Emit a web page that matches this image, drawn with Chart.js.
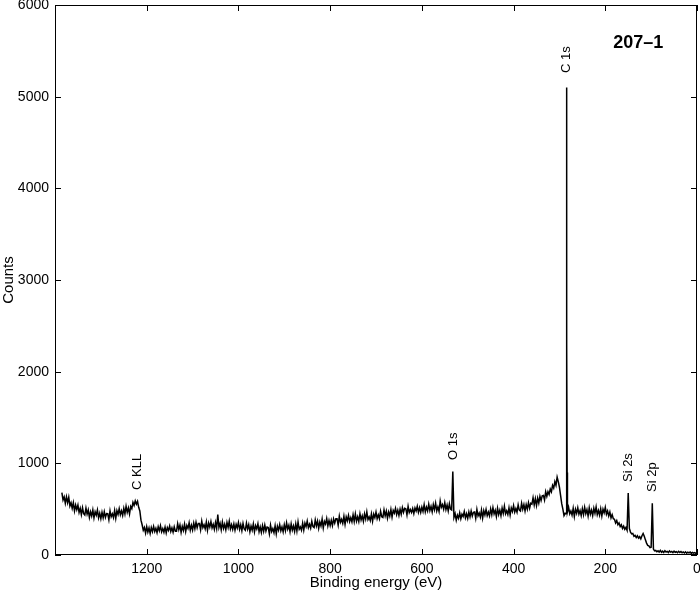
<!DOCTYPE html>
<html lang="en">
<head>
<meta charset="UTF-8">
<title>XPS survey 207-1</title>
<script src="https://cdn.jsdelivr.net/npm/chart.js"></script>
<style>
    html, body { margin: 0; padding: 0; background: #fff; }
    #wrap { width: 700px; height: 594px; }
</style>
</head>
<body>
<div id="wrap"><canvas id="xps"></canvas></div>
<script>
// survey spectrum, counts every 2.5 eV from 1385 eV down to 0 eV (20 per row = 50 eV)
const energyStart = 1385;
const energyStep = 2.5;
const counts = [
    680, 600, 635, 565, 635, 570, 630, 535, 570, 510, 570, 480, 545, 495, 545, 465, 510, 440, 515, 450,
    435, 512, 445, 492, 410, 472, 425, 492, 405, 472, 435, 492, 405, 457, 395, 467, 405, 472, 410, 452,
    450, 384, 482, 416, 449, 408, 486, 400, 483, 442, 505, 439, 482, 431, 509, 448, 531, 465, 513, 447,
    530, 505, 575, 540, 590, 555, 585, 520, 480, 380, 330, 270, 300, 240, 310, 250, 295, 235, 300, 255,
    312, 256, 292, 244, 308, 264, 320, 252, 288, 248, 304, 240, 300, 268, 316, 256, 296, 248, 308, 260,
    260, 342, 277, 327, 247, 313, 268, 337, 255, 322, 290, 352, 270, 325, 272, 347, 287, 357, 297, 345,
    345, 275, 370, 300, 330, 285, 360, 270, 350, 305, 365, 295, 335, 280, 355, 290, 440, 300, 345, 275,
    360, 290, 335, 275, 355, 300, 370, 285, 330, 280, 340, 270, 335, 295, 355, 280, 330, 265, 345, 285,
    270, 348, 283, 331, 253, 316, 271, 339, 252, 320, 283, 341, 254, 307, 247, 320, 258, 326, 262, 305,
    300, 231, 326, 257, 288, 243, 320, 232, 314, 271, 332, 264, 306, 253, 330, 267, 350, 282, 324, 255,
    340, 272, 317, 257, 339, 262, 361, 280, 306, 270, 348, 271, 348, 310, 371, 298, 336, 293, 368, 310,
    300, 382, 317, 370, 292, 360, 318, 391, 294, 366, 337, 399, 318, 376, 322, 379, 321, 393, 348, 395,
    395, 327, 424, 356, 388, 345, 422, 334, 416, 373, 433, 365, 407, 362, 439, 366, 448, 370, 417, 365,
    450, 382, 427, 367, 449, 392, 470, 387, 416, 376, 448, 368, 445, 407, 469, 396, 438, 395, 478, 418,
    410, 492, 427, 479, 402, 469, 425, 497, 414, 487, 457, 509, 442, 489, 432, 499, 445, 517, 466, 510,
    505, 437, 532, 464, 496, 464, 507, 452, 514, 481, 531, 466, 516, 464, 522, 475, 550, 471, 523, 480,
    555, 485, 530, 470, 550, 495, 565, 480, 525, 475, 590, 520, 550, 500, 570, 495, 545, 480, 560, 500,
    490, 910, 410, 450, 380, 435, 400, 460, 395, 445, 420, 475, 405, 450, 400, 470, 415, 480, 425, 465,
    470, 400, 497, 427, 457, 413, 490, 402, 484, 437, 497, 429, 469, 426, 503, 440, 517, 448, 488, 420,
    510, 442, 489, 429, 511, 454, 532, 449, 482, 442, 514, 436, 513, 475, 539, 468, 508, 467, 548, 490,
    480, 565, 500, 550, 480, 550, 500, 570, 510, 565, 555, 625, 545, 615, 540, 620, 565, 640, 595, 645,
    650, 600, 690, 640, 690, 660, 720, 690, 760, 730, 800, 760, 850, 800, 740, 650, 560, 500, 430, 455,
    450, 470, 520, 450, 480, 435, 510, 420, 500, 455, 515, 445, 485, 430, 505, 440, 520, 450, 495, 425,
    515, 445, 490, 430, 510, 455, 525, 440, 485, 435, 505, 425, 500, 460, 520, 445, 480, 425, 470, 405,
    440, 395, 390, 350, 375, 330, 350, 310, 330, 290, 315, 280, 300, 270, 675, 290, 250, 230, 235, 205,
    215, 190, 210, 185, 200, 175, 210, 235, 205, 165, 130, 105, 100, 80, 85, 565, 65, 45, 50, 35,
    45, 32, 50, 30, 42, 28, 47, 33, 40, 27, 44, 31, 38, 26, 42, 30, 36, 25, 40, 28,
    38, 24, 33, 22, 35, 20, 30, 23, 32, 18, 28, 21, 26, 17, 22
];

// C 1s line sampled between the 285 and 282.5 eV grid points
const peakEnergy = [284.6, 284.2, 283.8, 283.2];
const peakCounts = [5100, 3850, 2300, 900];

// labels: text, energy (eV), counts where the rotated text starts
const lineLabels = ['C KLL', 'O 1s', 'C 1s', 'Si 2s', 'Si 2p'];
const labelEnergy = [1221, 531, 285, 150, 97];
const labelCounts = [710, 1036, 5258, 796, 687];

const sampleName = '207–1';
const xTicks = [0, 200, 400, 600, 800, 1000, 1200];
const yTicks = [0, 1000, 2000, 3000, 4000, 5000, 6000];

const points = counts.map((c, i) => ({ x: energyStart - i * energyStep, y: c }));
peakEnergy.forEach((e, i) => points.push({ x: e, y: peakCounts[i] }));
points.sort((a, b) => b.x - a.x);

const FONT = 'Liberation Sans, Arial, Helvetica, sans-serif';

const frame = {
    id: 'frame',
    afterDatasetsDraw(chart) {
        const { ctx, chartArea: a, scales: { x, y } } = chart;
        ctx.save();
        ctx.strokeStyle = '#000';
        ctx.lineWidth = 1;
        ctx.strokeRect(a.left + 0.5, a.top + 0.5, a.right - a.left - 1, a.bottom - a.top - 1);
        ctx.beginPath();
        xTicks.forEach(v => {
            const px = Math.round(x.getPixelForValue(v)) + 0.5;
            ctx.moveTo(px, a.bottom); ctx.lineTo(px, a.bottom - 6);
            ctx.moveTo(px, a.top); ctx.lineTo(px, a.top + 6);
        });
        yTicks.forEach(v => {
            const py = Math.round(y.getPixelForValue(v)) + 0.5;
            ctx.moveTo(a.left, py); ctx.lineTo(a.left + 6, py);
            ctx.moveTo(a.right, py); ctx.lineTo(a.right - 6, py);
        });
        ctx.stroke();

        ctx.fillStyle = '#000';
        ctx.font = '13px ' + FONT;
        ctx.textAlign = 'left';
        ctx.textBaseline = 'middle';
        lineLabels.forEach((t, i) => {
            ctx.save();
            ctx.translate(x.getPixelForValue(labelEnergy[i]), y.getPixelForValue(labelCounts[i]));
            ctx.rotate(-Math.PI / 2);
            ctx.fillText(t, 0, 0);
            ctx.restore();
        });

        ctx.font = 'bold 18px ' + FONT;
        ctx.textAlign = 'center';
        ctx.fillText(sampleName, x.getPixelForValue(128), y.getPixelForValue(5585));
        ctx.restore();
    }
};

new Chart(document.getElementById('xps'), {
    type: 'line',
    data: {
        datasets: [{
            data: points,
            borderColor: '#000',
            borderWidth: 1.5,
            pointRadius: 0,
            tension: 0,
            fill: false
        }]
    },
    options: {
        responsive: true,
        maintainAspectRatio: false,
        animation: false,
        events: [],
        layout: { padding: { top: 5, right: 3, left: 0, bottom: 0 } },
        plugins: { legend: { display: false }, tooltip: { enabled: false } },
        scales: {
            x: {
                type: 'linear',
                reverse: true,
                min: 0,
                max: 1400,
                grid: { display: false, drawTicks: false },
                border: { display: false },
                afterBuildTicks: s => { s.ticks = xTicks.map(v => ({ value: v })); },
                afterFit: s => {
                    s.height = 39;
                    s.paddingLeft = 0; s.paddingRight = 0;
                },
                ticks: {
                    color: '#000', padding: 6, maxRotation: 0,
                    font: { size: 14, family: FONT },
                    callback: v => String(v)
                },
                title: {
                    display: true, text: 'Binding energy (eV)', color: '#000',
                    padding: { top: 0, bottom: 2 }, font: { size: 15, family: FONT }
                }
            },
            y: {
                min: 0,
                max: 6000,
                grid: { display: false, drawTicks: false },
                border: { display: false },
                afterBuildTicks: s => { s.ticks = yTicks.map(v => ({ value: v })); },
                afterFit: s => {
                    s.width = 55;
                    s.paddingTop = 0; s.paddingBottom = 0;
                },
                ticks: {
                    color: '#000', padding: 6,
                    font: { size: 14, family: FONT },
                    callback: v => String(v)
                },
                title: {
                    display: true, text: 'Counts', color: '#000',
                    padding: { top: 0, bottom: 0 }, font: { size: 15, family: FONT }
                }
            }
        }
    },
    plugins: [frame]
});
</script>
</body>
</html>
